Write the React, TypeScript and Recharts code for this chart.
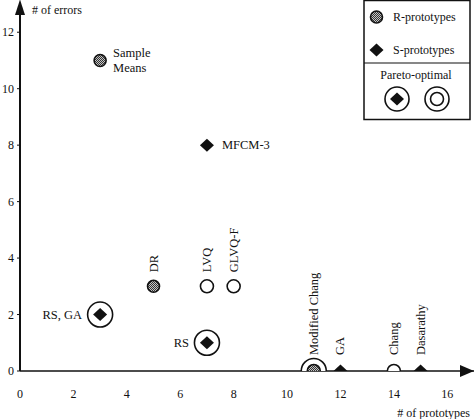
import React from "react";
import {
  ScatterChart, Scatter, XAxis, YAxis, ReferenceDot, Legend, Label,
} from "recharts";

const methodNames = [
  "Sample Means", "MFCM-3", "DR", "LVQ", "GLVQ-F",
  "RS, GA", "RS", "Modified Chang", "GA", "Chang", "Dasarathy",
];
const prototypeCounts = [3, 7, 5, 7, 8, 3, 7, 11, 12, 14, 15];
const errorCounts = [11, 8, 3, 3, 3, 2, 1, 0, 0, 0, 0];
// R = R-prototypes, S = S-prototypes, open = plain circle, paretoS / paretoR = circled
const markerKinds = ["R", "S", "R", "open", "open", "paretoS", "paretoS", "paretoR", "S", "open", "S"];

const xTicks = [0, 2, 4, 6, 8, 10, 12, 14, 16];
const yTicks = [0, 2, 4, 6, 8, 10, 12];

const labelSide: Record<string, string> = {
  "Sample Means": "right2",
  "MFCM-3": "right",
  "RS, GA": "left",
  RS: "left",
};

const FONT = "'Liberation Serif', 'Times New Roman', serif";
const INK = "#111";

const points = methodNames.map((name, i) => ({
  name,
  x: prototypeCounts[i],
  y: errorCounts[i],
  kind: markerKinds[i],
}));

function Hatch() {
  return (
    <defs>
      <pattern id="hatch" width="2" height="2" patternUnits="userSpaceOnUse">
        <rect width="2" height="2" fill="#c4c4c4" />
        <rect width="1" height="1" fill="#333" />
        <rect x="1" y="1" width="1" height="1" fill="#333" />
      </pattern>
    </defs>
  );
}

function Diamond({ cx, cy }: { cx: number; cy: number }) {
  return <polygon points={`${cx - 7},${cy} ${cx},${cy - 6.5} ${cx + 7},${cy} ${cx},${cy + 6.5}`} fill={INK} />;
}

function Marker({ kind, cx, cy }: { kind: string; cx: number; cy: number }) {
  switch (kind) {
    case "R":
      return <circle cx={cx} cy={cy} r={6} fill="url(#hatch)" stroke={INK} strokeWidth={1.6} />;
    case "S":
      return <Diamond cx={cx} cy={cy} />;
    case "open":
      return <circle cx={cx} cy={cy} r={6.5} fill="#fff" stroke={INK} strokeWidth={1.6} />;
    case "paretoS":
      return (
        <g>
          <circle cx={cx} cy={cy} r={12.5} fill="#fff" stroke={INK} strokeWidth={1.6} />
          <Diamond cx={cx} cy={cy} />
        </g>
      );
    case "paretoR":
      return (
        <g>
          <circle cx={cx} cy={cy} r={12.5} fill="#fff" stroke={INK} strokeWidth={1.6} />
          <circle cx={cx} cy={cy} r={6.5} fill="url(#hatch)" stroke={INK} strokeWidth={1.6} />
        </g>
      );
    default:
      return null;
  }
}

function PointShape(props: any) {
  const { cx, cy, payload } = props;
  const side = labelSide[payload.name] ?? "up";
  const textProps = { fontFamily: FONT, fontSize: 12.5, fill: INK };
  let label: React.ReactNode = null;
  if (side === "right2") {
    const [a, b] = payload.name.split(" ");
    label = (
      <text {...textProps} x={cx + 13} y={cy} dominantBaseline="central">
        <tspan x={cx + 13} dy={-7}>{a}</tspan>
        <tspan x={cx + 13} dy={15}>{b}</tspan>
      </text>
    );
  } else if (side === "right") {
    label = <text {...textProps} x={cx + 15} y={cy} dominantBaseline="central">{payload.name}</text>;
  } else if (side === "left") {
    label = <text {...textProps} x={cx - 18} y={cy} textAnchor="end" dominantBaseline="central">{payload.name}</text>;
  } else {
    const off = payload.y === 0 ? 16 : 14;
    label = (
      <text {...textProps} x={cx} y={cy - off} dominantBaseline="central"
        transform={`rotate(-90 ${cx} ${cy - off})`}>{payload.name}</text>
    );
  }
  return (
    <g>
      {payload.kind === "R" || payload.kind === "paretoR" ? <Hatch /> : null}
      <Marker kind={payload.kind} cx={cx} cy={cy} />
      {label}
    </g>
  );
}

function ArrowUp(props: any) {
  const { cx, cy } = props;
  return <polygon points={`${cx},${cy - 4.5} ${cx - 5},${cy + 11} ${cx + 5},${cy + 11}`} fill={INK} />;
}

function ArrowRight(props: any) {
  const { cx, cy } = props;
  return <polygon points={`${cx},${cy} ${cx - 14},${cy - 6} ${cx - 14},${cy + 6}`} fill={INK} />;
}

function LegendBox() {
  const txt = { fontFamily: FONT, fontSize: 12, fill: INK, dominantBaseline: "central" as const };
  return (
    <svg width={108} height={122} style={{ display: "block" }}>
      <rect x={1} y={0.5} width={106} height={119} fill="#fff" stroke={INK} strokeWidth={1.5} />
      <line x1={1} x2={107} y1={63} y2={63} stroke={INK} strokeWidth={1.2} />
      <Hatch />
      <Marker kind="R" cx={13.5} cy={17} />
      <text {...txt} x={30} y={17}>R-prototypes</text>
      <Marker kind="S" cx={13.5} cy={50} />
      <text {...txt} x={30} y={50}>S-prototypes</text>
      <text {...txt} x={53} y={75} textAnchor="middle">Pareto-optimal</text>
      <circle cx={34} cy={99} r={12} fill="#fff" stroke={INK} strokeWidth={1.6} />
      <Diamond cx={34} cy={99} />
      <circle cx={74} cy={99} r={12} fill="#fff" stroke={INK} strokeWidth={1.6} />
      <circle cx={74} cy={99} r={6.5} fill="#fff" stroke={INK} strokeWidth={1.6} />
    </svg>
  );
}

export default function App() {
  const kinds = ["R", "S", "open", "paretoS", "paretoR"];
  return (
    <div style={{ width: 474, height: 419, background: "#fff" }}>
      <style>{"body{margin:0}"}</style>
      <ScatterChart width={474} height={419} margin={{ top: 4, right: 0, bottom: 0, left: 0 }}>
        <XAxis
          type="number"
          dataKey="x"
          domain={[0, 17]}
          ticks={xTicks}
          allowDataOverflow
          height={48}
          tickLine={false}
          tickSize={6}
          tickMargin={12}
          axisLine={{ stroke: INK, strokeWidth: 1.5 }}
          tick={{ fill: INK, fontSize: 12, fontFamily: FONT }}
        >
          <Label
            content={(p: any) => (
              <text x={470} y={p.viewBox.y + 42} textAnchor="end" dominantBaseline="central"
                fontFamily={FONT} fontSize={12} fill={INK}># of prototypes</text>
            )}
          />
        </XAxis>
        <YAxis
          type="number"
          dataKey="y"
          domain={[0, 13]}
          ticks={yTicks}
          allowDataOverflow
          width={20}
          tickSize={3}
          tickMargin={3}
          axisLine={{ stroke: INK, strokeWidth: 2 }}
          tickLine={{ stroke: INK }}
          tick={{ fill: INK, fontSize: 12, fontFamily: FONT }}
        >
          <Label
            content={() => (
              <text x={32} y={10} dominantBaseline="central"
                fontFamily={FONT} fontSize={12} fill={INK}># of errors</text>
            )}
          />
        </YAxis>
        <ReferenceDot x={0} y={13} ifOverflow="visible" shape={ArrowUp} />
        <ReferenceDot x={17} y={0} ifOverflow="visible" shape={ArrowRight} />
        {kinds.map((k) => (
          <Scatter
            key={k}
            data={points.filter((p) => p.kind === k)}
            shape={PointShape}
            isAnimationActive={false}
          />
        ))}
        <Legend
          layout="vertical"
          align="center"
          verticalAlign="middle"
          wrapperStyle={{ position: "absolute", left: 363, top: 0, width: 108, height: 122 }}
          content={() => <LegendBox />}
        />
      </ScatterChart>
    </div>
  );
}
